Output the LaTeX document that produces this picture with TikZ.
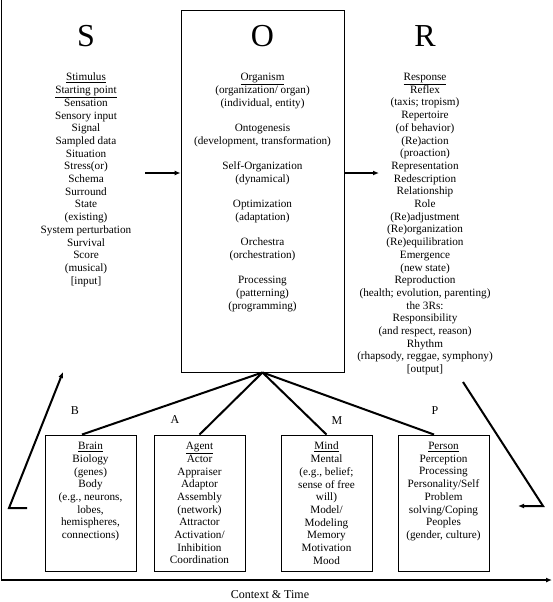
\documentclass[tikz,border=0pt]{standalone}
\usepackage{fontspec}
\setmainfont{Liberation Serif}
\usetikzlibrary{arrows.meta,positioning}
\begin{document}
\begin{tikzpicture}[x=1pt, y=-1pt, >={Latex[length=6pt,width=5pt]},
    col/.style={align=center, anchor=north, inner sep=0pt, font=\fontsize{11.2}{12.7}\selectfont},
    big/.style={anchor=base, inner sep=0pt, font=\fontsize{32}{32}\selectfont},
    lbl/.style={anchor=base, inner sep=0pt, font=\fontsize{12}{12}\selectfont},
    sbox/.style={draw, line width=0.9pt, minimum width=91pt, minimum height=136pt, inner sep=0pt},
    link/.style={line width=2pt}]
    \useasboundingbox (0,0) rectangle (552,602);
    % axes
    \draw[line width=1.3pt, ->] (1.5,0) -- (1.5,580) -- (552,580);
    \node[anchor=base, font=\fontsize{12}{13}\selectfont] (ctx) at (270,598) {Context \& Time};
    % S O R
    \node[big] (s) at (86,47) {S};
    \node[big] (o) at (262.5,47) {O};
    \node[big] (r) at (425,47) {R};
    \node[draw, line width=0.9pt, minimum width=163pt, minimum height=362pt] (obox) at (262.5,191) {};
    \node[col] (stim) at (86,73) {\underline{Stimulus}\\ \underline{Starting point}\\ Sensation\\ Sensory input\\
        Signal\\ Sampled data\\ Situation\\ Stress(or)\\ Schema\\ Surround\\ State\\ (existing)\\
        System perturbation\\ Survival\\ Score\\ (musical)\\ {[input]}};
    \node[col] (org) at (262.5,73) {\underline{Organism}\\ (organization/ organ)\\ (individual, entity)\\[12.7pt]
        Ontogenesis\\ (development, transformation)\\[12.7pt] Self-Organization\\ (dynamical)\\[12.7pt]
        Optimization\\ (adaptation)\\[12.7pt] Orchestra\\ (orchestration)\\[12.7pt]
        Processing\\ (patterning)\\ (programming)};
    \node[col] (resp) at (425,73) {\underline{Response}\\ Reflex\\ (taxis; tropism)\\ Repertoire\\ (of behavior)\\
        (Re)action\\ (proaction)\\ Representation\\ Redescription\\ Relationship\\ Role\\ (Re)adjustment\\
        (Re)organization\\ (Re)equilibration\\ Emergence\\ (new state)\\ Reproduction\\
        (health; evolution, parenting)\\ the 3Rs:\\ Responsibility\\ (and respect, reason)\\ Rhythm\\
        (rhapsody, reggae, symphony)\\ {[output]}};
    \coordinate (sin) at (145,173);
    \coordinate (rin) at (379,173);
    \draw[link, ->] (sin) -- (sin -| obox.west);
    \draw[link, ->] (obox.east |- rin) -- (rin);
    % lower boxes
    \node[sbox] (brain) at (90.5,503) {};
    \node[sbox] (agent) at (199.5,503) {};
    \node[sbox] (mind) at (326.5,503) {};
    \node[sbox] (person) at (443.5,503) {};
    \node[col] (brainTxt) at (90.5,442) {\underline{Brain}\\ Biology\\ (genes)\\ Body\\ (e.g., neurons,\\ lobes,\\
        hemispheres,\\ connections)};
    \node[col] (agentTxt) at (199.5,442) {\underline{Agent}\\ Actor\\ Appraiser\\ Adaptor\\ Assembly\\ (network)\\
        Attractor\\ Activation/\\ Inhibition\\ Coordination};
    \node[col] (mindTxt) at (326.5,442) {\underline{Mind}\\ Mental\\ (e.g., belief;\\ sense of free\\ will)\\
        Model/\\ Modeling\\ Memory\\ Motivation\\ Mood};
    \node[col] (personTxt) at (443.5,442) {\underline{Person}\\ Perception\\ Processing\\ Personality/Self\\
        Problem\\ solving/Coping\\ Peoples\\ (gender, culture)};
    \draw[link] (obox.south) -- ([xshift=-8.5pt]brain.north);
    \draw[link] (obox.south) -- (agent.north);
    \draw[link] (obox.south) -- (mind.north);
    \draw[link] (obox.south) -- ([xshift=-9.5pt]person.north);
    \node[lbl] (b) at (75,414) {B};
    \node[lbl] (a) at (175,423) {A};
    \node[lbl] (m) at (337,424) {M};
    \node[lbl] (p) at (435,414) {P};
    % feedback arrows
    \coordinate (lstart) at (27,508);
    \coordinate (lend) at (63,372);
    \draw[link, ->] (lstart) -- (9,508) -- (lend);
    \coordinate (rstart) at (463,382);
    \coordinate (rend) at (518,506);
    \draw[link, ->] (rstart) -- (543,506) -- (rend);
\end{tikzpicture}
\end{document}
